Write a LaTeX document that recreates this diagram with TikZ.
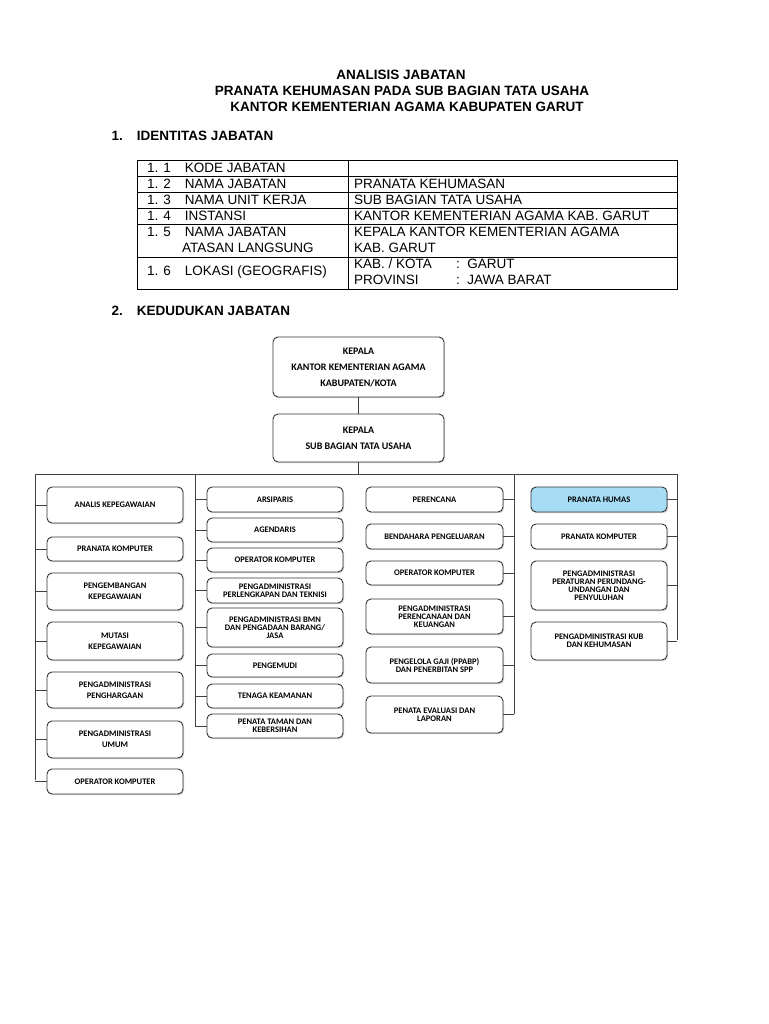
\documentclass[tikz,border=0pt]{standalone}
\usepackage{fontspec}
\setmainfont{Liberation Sans}
\newfontfamily\calfnt{Carlito}
\usetikzlibrary{shadows}
\definecolor{humas}{HTML}{A6DDF5}
\begin{document}
\begin{tikzpicture}[x=1pt,y=-1pt,
  bx/.style={draw=black!80,line width=0.9pt,rounded corners=5pt,fill=white,
    drop shadow={shadow xshift=1pt,shadow yshift=-1.2pt,opacity=0.35},
    font=\calfnt\bfseries\fontsize{8.5}{8}\selectfont,align=center,inner sep=1pt},
  ln/.style={draw=black!75,line width=0.9pt},
  tt/.style={font=\fontsize{13.5}{13}\selectfont,anchor=west,inner sep=0pt}]
\useasboundingbox (0,0) rectangle (768,1024);
\fill[white] (0,0) rectangle (768,1024);
% headings
\node[font=\bfseries\fontsize{13.5}{14}\selectfont] (h1) at (401,75) {ANALISIS JABATAN};
\node[font=\bfseries\fontsize{13.5}{14}\selectfont] (h2) at (402,91) {PRANATA KEHUMASAN PADA SUB BAGIAN TATA USAHA};
\node[font=\bfseries\fontsize{13.5}{14}\selectfont] (h3) at (407,107) {KANTOR KEMENTERIAN AGAMA KABUPATEN GARUT};
\node[font=\bfseries\fontsize{13.5}{14}\selectfont,anchor=west] (s1) at (108,136) {1.\hspace{14pt}IDENTITAS JABATAN};
\node[font=\bfseries\fontsize{13.5}{14}\selectfont,anchor=west] (s2) at (108,311) {2.\hspace{14pt}KEDUDUKAN JABATAN};
% table
\draw[line width=0.8pt] (137,160) rectangle (677,289);
\draw[line width=0.8pt] (348,160) -- (348,289);
\foreach \y in {176,192,208,224,257} \draw[line width=0.8pt] (137,\y) -- (677,\y);
\node[tt] (a1) at (147,168) {1. 1\hspace{14pt}KODE JABATAN};
\node[tt] (a2) at (147,184) {1. 2\hspace{14pt}NAMA JABATAN};
\node[tt] (a3) at (147,200) {1. 3\hspace{14pt}NAMA UNIT KERJA};
\node[tt] (a4) at (147,216) {1. 4\hspace{14pt}INSTANSI};
\node[tt] (a5) at (147,232) {1. 5\hspace{14pt}NAMA JABATAN};
\node[tt] (a5b) at (182,248) {ATASAN LANGSUNG};
\node[tt] (a6) at (147,272) {1. 6\hspace{14pt}LOKASI (GEOGRAFIS)};
\node[tt] (b2) at (354,184) {PRANATA KEHUMASAN};
\node[tt] (b3) at (354,200) {SUB BAGIAN TATA USAHA};
\node[tt] (b4) at (354,216) {KANTOR KEMENTERIAN AGAMA KAB. GARUT};
\node[tt] (b5) at (354,232) {KEPALA KANTOR KEMENTERIAN AGAMA};
\node[tt] (b5b) at (354,248) {KAB. GARUT};
\node[tt] (b6) at (354,264) {KAB. / KOTA};
\node[tt] (b6c) at (456,264) {:\ \ GARUT};
\node[tt] (b6b) at (354,280) {PROVINSI};
\node[tt] (b6d) at (456,280) {:\ \ JAWA BARAT};
% top boxes
\node[bx,minimum width=171pt,minimum height=60pt,font=\calfnt\bfseries\fontsize{10}{16}\selectfont] (k1) at (358.5,367) {KEPALA\\KANTOR KEMENTERIAN AGAMA\\KABUPATEN/KOTA};
\node[bx,minimum width=171pt,minimum height=48pt,font=\calfnt\bfseries\fontsize{10}{16}\selectfont] (k2) at (358.5,438) {KEPALA\\SUB BAGIAN TATA USAHA};
\draw[ln] (k1) -- (k2);
\coordinate (bus) at (358.5,474);
\draw[ln] (k2) -- (bus);
\draw[ln] (35,780) -- (35,474) -- (677,474) -- (677,640);
\draw[ln] (195,474) -- (195,726);
\draw[ln] (514,474) -- (514,714);
% column 1
\foreach \n/\a/\b/\t in {c11/487/523/{ANALIS KEPEGAWAIAN},c12/537/561/{PRANATA KOMPUTER},
  c13/573/610/{PENGEMBANGAN\\[3pt]KEPEGAWAIAN},c14/622/660/{MUTASI\\[3pt]KEPEGAWAIAN},
  c15/672/708/{PENGADMINISTRASI\\[3pt]PENGHARGAAN},c16/721/758/{PENGADMINISTRASI\\[3pt]UMUM},
  c17/769/794/{OPERATOR KOMPUTER}}{
  \node[bx,minimum width=136pt,minimum height=\b-\a] (\n) at (115,{(\a+\b)/2}) {\t};
  \coordinate (\n j) at (35,{(\a+\b)/2});
  \draw[ln] (\n j) -- (\n);}
% column 2
\foreach \n/\a/\b/\t in {c21/487/512/{ARSIPARIS},c22/518/542/{AGENDARIS},c23/548/572/{OPERATOR KOMPUTER},
  c24/578/603/{PENGADMINISTRASI\\PERLENGKAPAN DAN TEKNISI},c25/608/647/{PENGADMINISTRASI BMN\\DAN PENGADAAN BARANG/\\JASA},
  c26/654/677/{PENGEMUDI},c27/684/708/{TENAGA KEAMANAN},c28/714/738/{PENATA TAMAN DAN\\KEBERSIHAN}}{
  \node[bx,minimum width=136pt,minimum height=\b-\a] (\n) at (275,{(\a+\b)/2}) {\t};
  \coordinate (\n j) at (195,{(\a+\b)/2});
  \draw[ln] (\n j) -- (\n);}
% column 3
\foreach \n/\a/\b/\t in {c31/487/512/{PERENCANA},c32/524/549/{BENDAHARA PENGELUARAN},c33/561/585/{OPERATOR KOMPUTER},
  c34/599/634/{PENGADMINISTRASI\\PERENCANAAN DAN\\KEUANGAN},c35/647/683/{PENGELOLA GAJI (PPABP)\\DAN PENERBITAN SPP},
  c36/696/733/{PENATA EVALUASI DAN\\LAPORAN}}{
  \node[bx,minimum width=137pt,minimum height=\b-\a] (\n) at (434.5,{(\a+\b)/2}) {\t};
  \coordinate (\n j) at (514,{(\a+\b)/2});
  \draw[ln] (\n j) -- (\n);}
% column 4
\node[bx,fill=humas,minimum width=136pt,minimum height=25pt] (c41) at (599,499.5) {PRANATA HUMAS};
\foreach \n/\a/\b/\t in {c42/524/549/{PRANATA KOMPUTER},
  c43/561/610/{PENGADMINISTRASI\\PERATURAN PERUNDANG-\\UNDANGAN DAN\\PENYULUHAN},c44/622/660/{PENGADMINISTRASI KUB\\DAN KEHUMASAN}}{
  \node[bx,minimum width=136pt,minimum height=\b-\a] (\n) at (599,{(\a+\b)/2}) {\t};}
\foreach \n/\y in {c41/499.5,c42/536.5,c43/585.5,c44/641}{
  \coordinate (\n j) at (677,\y);
  \draw[ln] (\n j) -- (\n);}
\end{tikzpicture}
\end{document}
